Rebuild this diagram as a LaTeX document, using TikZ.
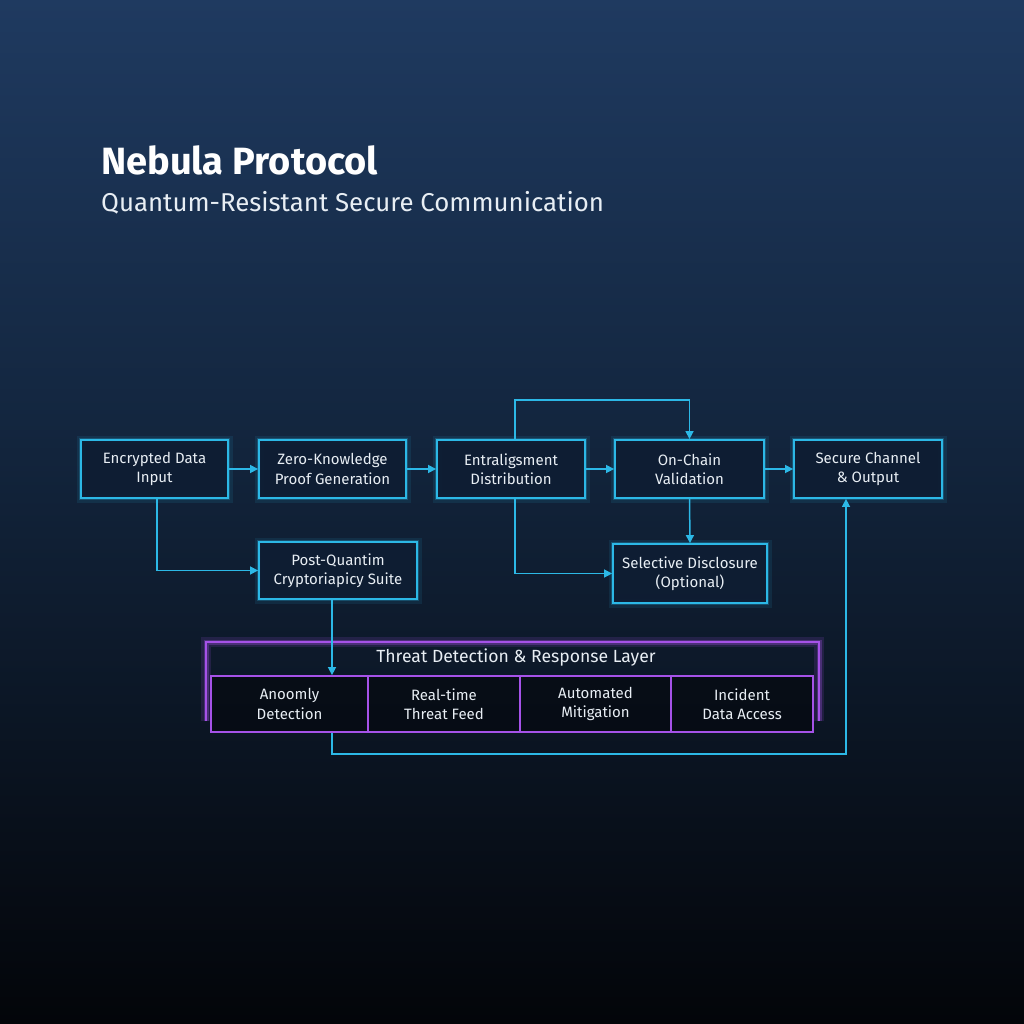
\documentclass[tikz,border=0pt]{standalone}
\usepackage{fontspec}
\setmainfont{Fira Sans}
\usetikzlibrary{arrows.meta,calc}
\definecolor{bgtop}{HTML}{1F3A60}
\definecolor{bgmid}{HTML}{13263F}
\definecolor{bgbot}{HTML}{030509}
\definecolor{cy}{HTML}{2CB8E6}
\definecolor{pu}{HTML}{A552E8}
\definecolor{boxfill}{HTML}{0E1D33}
\definecolor{txt}{HTML}{E8EEF4}
\tikzset{
  cybox/.style={draw=cy, line width=1.8pt, fill=boxfill, fill opacity=0.95, text opacity=1,
    text=txt, align=center, font=\fontsize{15}{19.5}\selectfont, minimum height=58pt,
    inner sep=0pt,
    preaction={draw=cy, line width=9pt, draw opacity=0.10},
    preaction={draw=cy, line width=4.5pt, draw opacity=0.25}},
  pucell/.style={draw=pu, line width=1.8pt, fill=bgbot, fill opacity=0.55, text opacity=1,
    text=txt, align=center, font=\fontsize{15}{19.5}\selectfont, minimum height=56pt, inner sep=0pt},
  conn/.style={draw=cy, line width=1.5pt},
  arr/.style={conn, -{Triangle[length=8pt,width=8pt]}},
  glowpu/.style={draw=pu, line width=2.6pt,
    preaction={draw=pu, line width=10pt, draw opacity=0.15},
    preaction={draw=pu, line width=5pt, draw opacity=0.3}}
}
\begin{document}
\begin{tikzpicture}[x=1pt,y=-1pt]
\shade[top color=bgtop, bottom color=bgmid] (0,0) rectangle (1024,420);
\shade[top color=bgmid, bottom color=bgbot] (0,420) rectangle (1024,1024);
\useasboundingbox (0,0) rectangle (1024,1024);

\node[anchor=base west, text=white, font=\fontsize{38}{44}\selectfont\bfseries, inner sep=0pt] (title) at (101,175) {Nebula Protocol};
\node[anchor=base west, text=txt, font=\fontsize{25.8}{30}\selectfont, inner sep=0pt] (sub) at (101,212) {Quantum-Resistant Secure Communication};

\node[cybox, minimum width=147pt] (enc) at (154.5,469) {Encrypted Data\\Input};
\node[cybox, minimum width=147pt] (zk) at (332.5,469) {Zero-Knowledge\\Proof Generation};
\node[cybox, minimum width=148pt] (ent) at (511,469) {Entraligsment\\Distribution};
\node[cybox, minimum width=149pt] (onc) at (689.5,469) {On-Chain\\Validation};
\node[cybox, minimum width=148pt] (sec) at (868,469) {Secure Channel\\\& Output};
\node[cybox, minimum width=158pt, minimum height=57pt] (pq) at (338,570.5) {Post-Quantim\\Cryptoriapicy Suite};
\node[cybox, minimum width=154pt, minimum height=59pt] (sel) at (690,573.5) {Selective Disclosure\\(Optional)};

% threat layer
\coordinate (bl) at (206,721);
\coordinate (tl) at (206,642);
\coordinate (tr) at (819,642);
\coordinate (br) at (819,721);
\draw[glowpu] (bl) -- (tl) -- (tr) -- (br);
\node[text=txt, font=\fontsize{17.6}{21}\selectfont] (layer) at (516,658) {Threat Detection \& Response Layer};
\node[pucell, minimum width=157pt] (anom) at (289.5,704) {Anoomly\\Detection};
\node[pucell, minimum width=152pt] (rt) at (444,704) {Real-time\\Threat Feed};
\node[pucell, minimum width=151pt] (am) at (595.5,704) {Automated\\Mitigation};
\node[pucell, minimum width=142pt] (inc) at (742,704) {Incident\\Data Access};

% connector anchor points
\coordinate (encout) at ($(enc.south)+(2.5,0)$);
\coordinate (entup) at ($(ent.north)+(4,0)$);
\coordinate (entdown) at ($(ent.south)+(4,0)$);
\coordinate (pqout) at ($(pq.south)+(-6,0)$);
\coordinate (anomout) at ($(anom.south)+(42.5,0)$);
\coordinate (secin) at ($(sec.south)+(-22,0)$);

% connectors
\draw[arr] (enc.east) -- (zk.west);
\draw[arr] (zk.east) -- (ent.west);
\draw[arr] (ent.east) -- (onc.west);
\draw[arr] (onc.east) -- (sec.west);
\draw[arr] (encout) |- (pq.west);
\draw[arr] (entup) -- ++(0,-39) -| (onc.north);
\draw[arr] (entdown) |- (sel.west);
\draw[arr] (onc.south) -- (sel.north);
\draw[arr] (pqout) -- (pqout |- anom.north);
\draw[arr] (anomout) -- ++(0,21) -| (secin);
\end{tikzpicture}
\end{document}
